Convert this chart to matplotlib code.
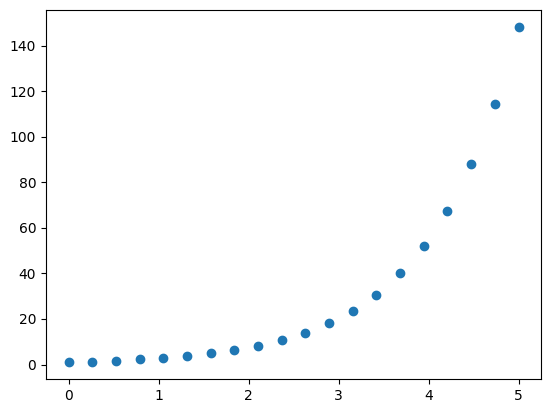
import matplotlib
matplotlib.use('Agg')
import matplotlib.pyplot as plt

x_vals = [0.0, 0.26, 0.53, 0.79, 1.05, 1.32, 1.58, 1.84, 2.11, 2.37,
          2.63, 2.89, 3.16, 3.42, 3.68, 3.95, 4.21, 4.47, 4.74, 5.0]
y_vals = [1.0, 1.3, 1.7, 2.2, 2.9, 3.7, 4.9, 6.3, 8.2, 10.7,
          13.9, 18.1, 23.6, 30.7, 40.0, 51.9, 67.6, 88.0, 114.5, 148.4]

fig = plt.figure(figsize=(5.52, 4.13), dpi=100)
ax = fig.add_subplot(111)
fig.subplots_adjust(left=46 / 552, right=541 / 552, top=1 - 10 / 413, bottom=1 - 379 / 413)
ax.scatter(x_vals, y_vals)

fig.savefig('out.png', dpi=100)
